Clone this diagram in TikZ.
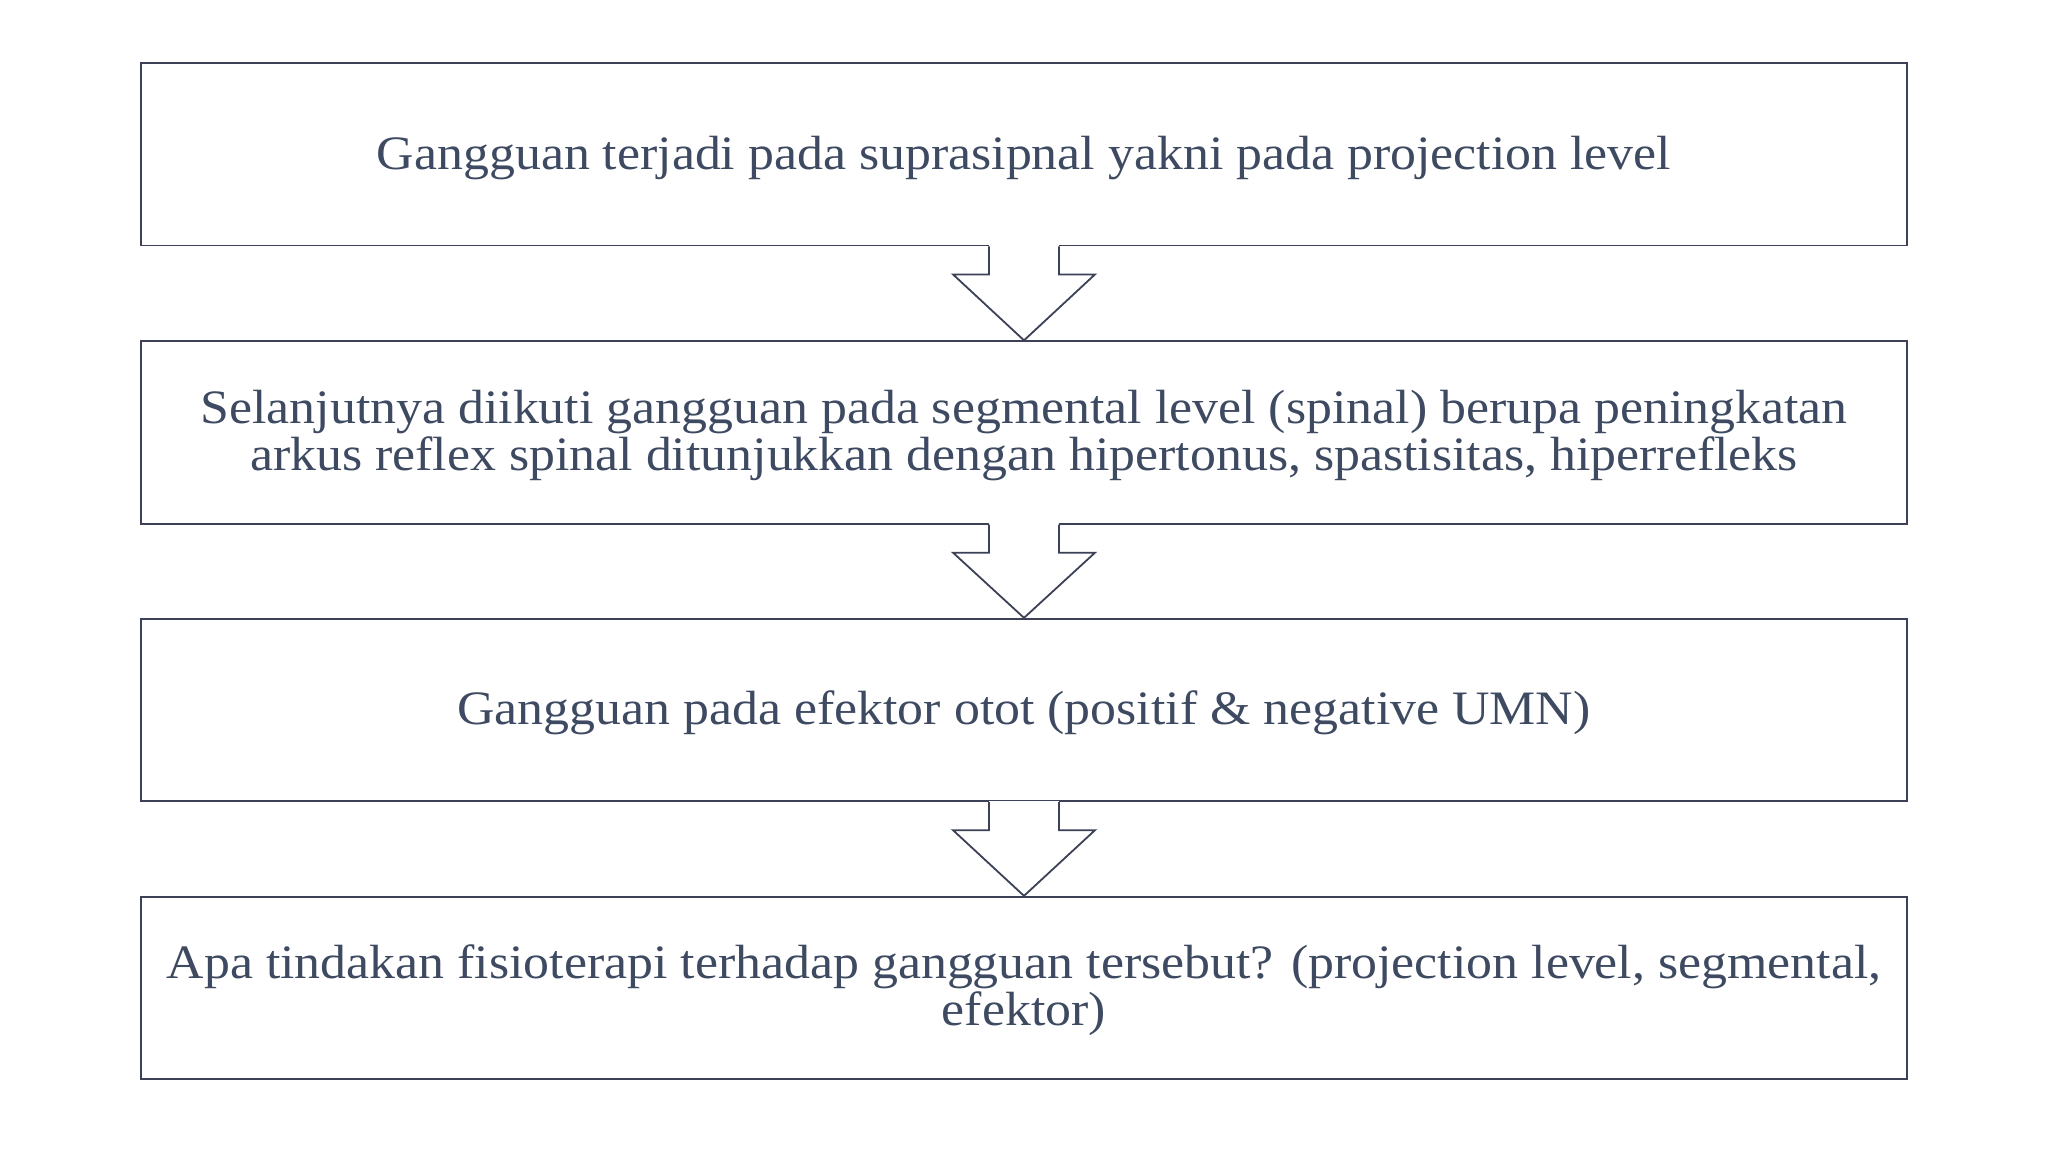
\documentclass[tikz,border=0pt]{standalone}
\usepackage{fontspec}
\setmainfont[FakeStretch=1.08]{Liberation Serif}
\usetikzlibrary{calc}
\definecolor{txt}{HTML}{3E4A61}
\definecolor{ln}{HTML}{3C4157}
\newcommand{\lowertext}[2]{\raisebox{-#1}[\height][\depth]{#2}}
\begin{document}
\begin{tikzpicture}[x=1pt,y=-1pt,
  flowbox/.style={draw=ln,line width=1.8pt,fill=white,minimum width=1766pt,minimum height=182.5pt,
    inner sep=0pt,align=center,text=txt,font=\fontsize{48pt}{47pt}\selectfont},
  arrowshape/.style={draw=ln,line width=1.8pt,fill=white,line join=miter}]
\useasboundingbox (0,0) rectangle (2048,1152);
\fill[white] (0,0) rectangle (2048,1152);
\node[flowbox] (b1) at (1024,154.25) {\lowertext{4pt}{Gangguan terjadi pada suprasipnal yakni pada projection level}};
\node[flowbox] (b2) at (1024,432.5) {\lowertext{5pt}{\begin{tabular}{@{}c@{}}Selanjutnya diikuti gangguan pada segmental level (spinal) berupa peningkatan\\[-1pt]arkus reflex spinal ditunjukkan dengan hipertonus, spastisitas, hiperrefleks\end{tabular}}};
\node[flowbox] (b3) at (1024,710) {\lowertext{3pt}{Gangguan pada efektor otot (positif \& negative UMN)}};
\node[flowbox] (b4) at (1024,988) {\lowertext{4pt}{\begin{tabular}{@{}c@{}}Apa tindakan fisioterapi terhadap gangguan tersebut? (projection level, segmental,\\[-1pt]efektor)\end{tabular}}};
\foreach \a/\b in {b1/b2,b2/b3,b3/b4}{
  \fill[white] ($(\a.south)+(-35,-1.5)$) rectangle ($(\a.south)+(35,1.5)$);
  \draw[arrowshape] ($(\a.south)+(-35,0)$) -- ($(\a.south)+(-35,28)$) -- ($(\a.south)+(-71,28)$)
    -- (\b.north) -- ($(\a.south)+(71,28)$) -- ($(\a.south)+(35,28)$) -- ($(\a.south)+(35,0)$);
}
\end{tikzpicture}
\end{document}
